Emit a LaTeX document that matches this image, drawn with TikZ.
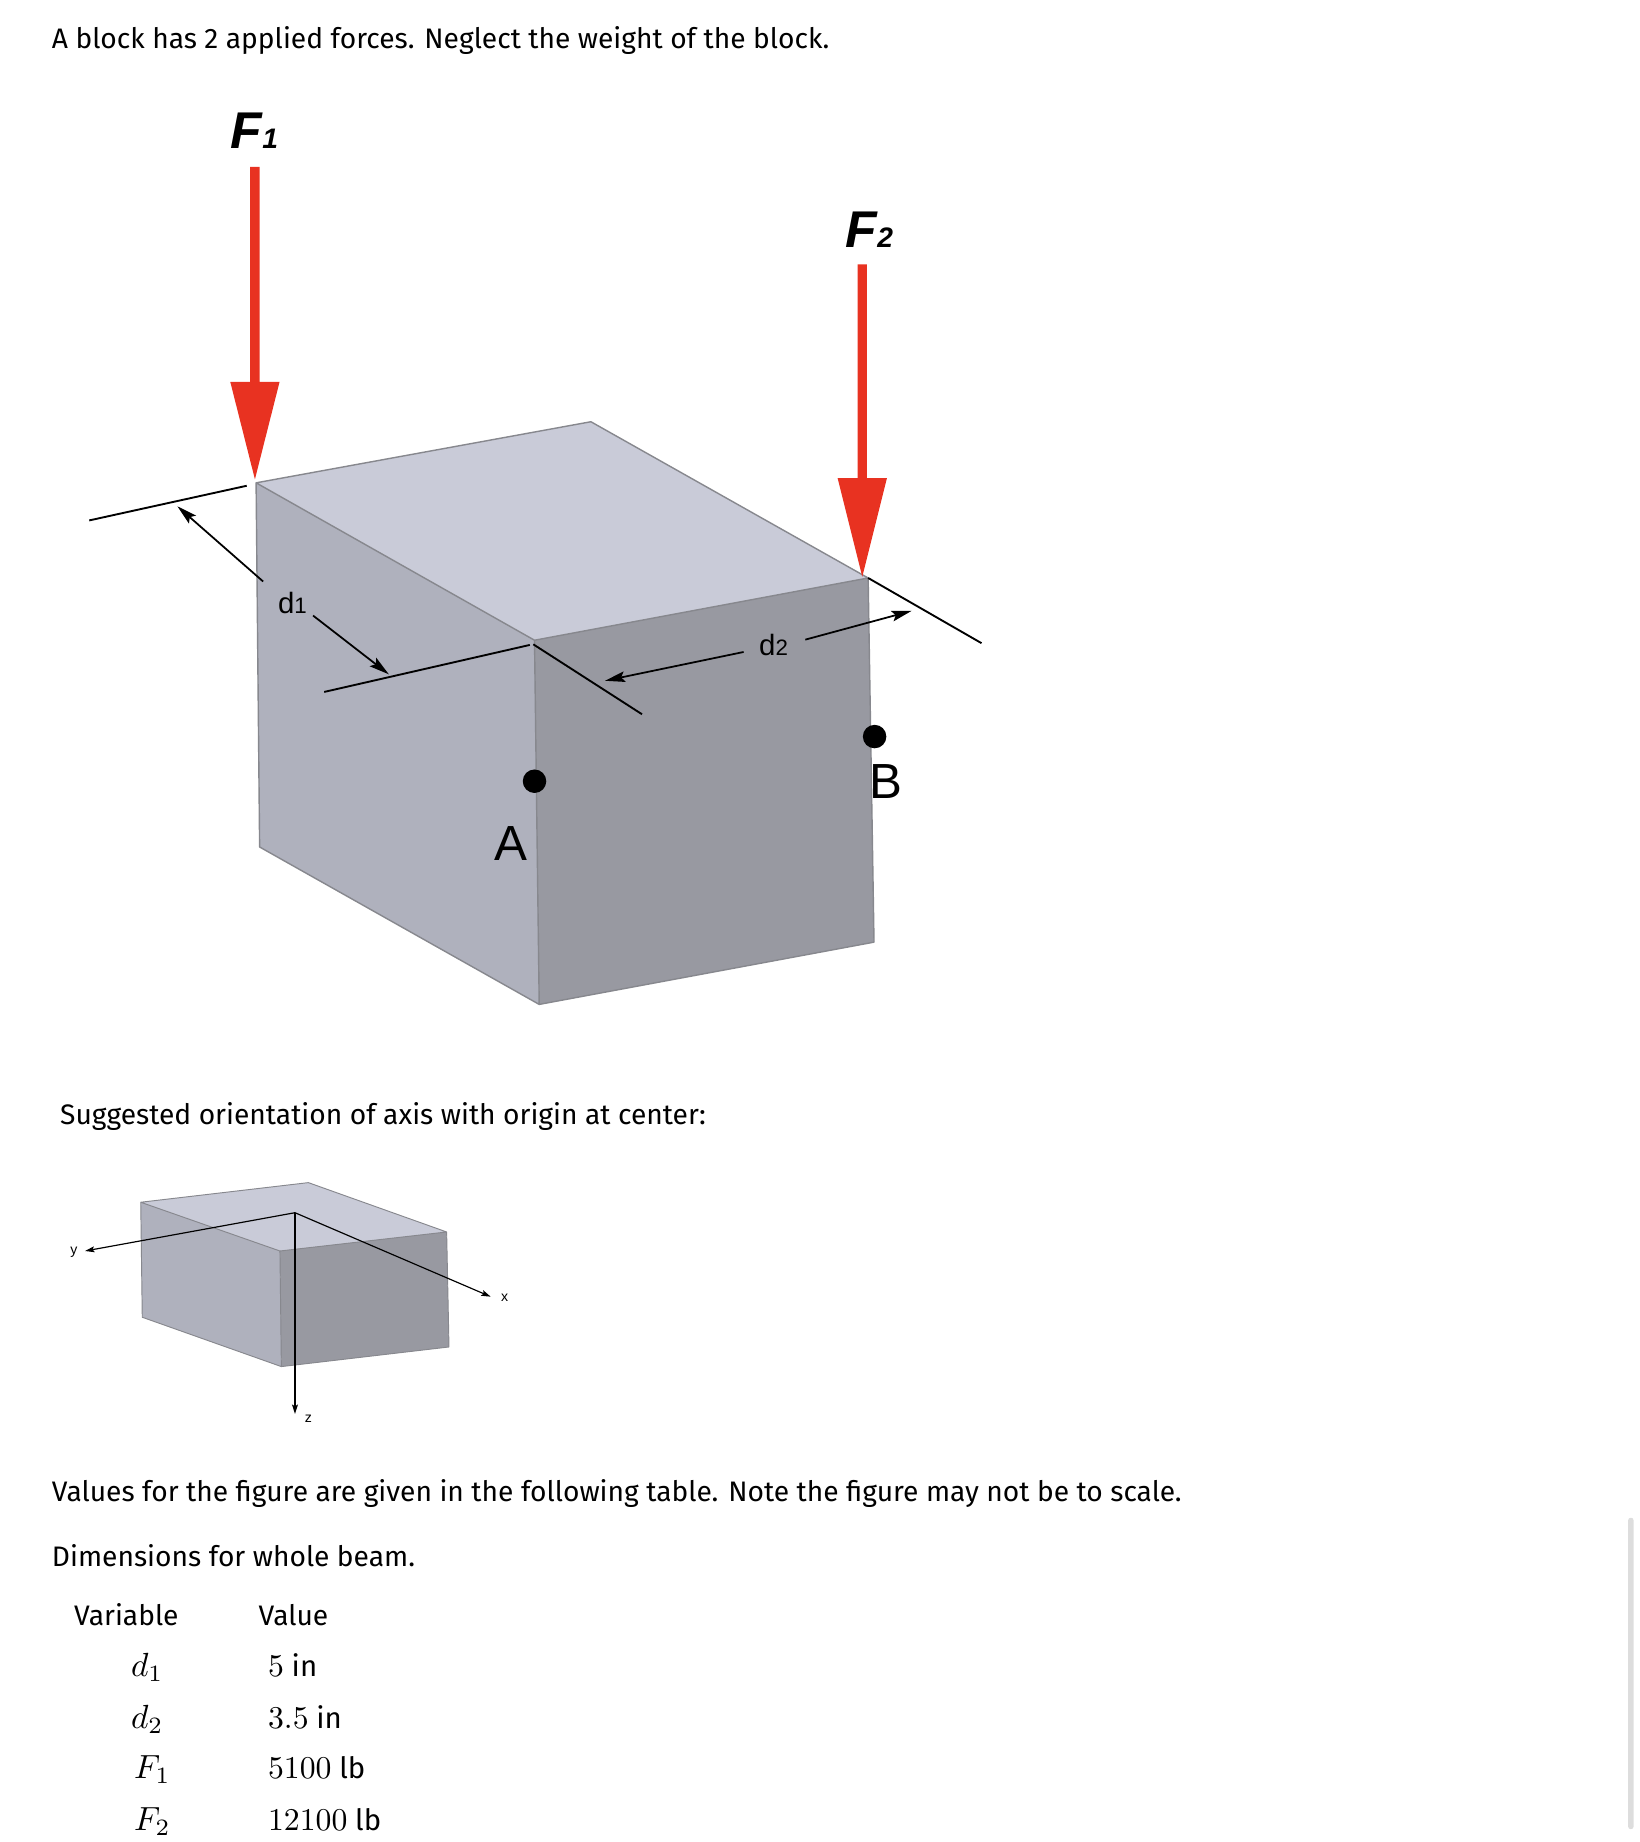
\documentclass[tikz,border=0pt]{standalone}
\usepackage{fontspec}
\setmainfont{Fira Sans}
\newfontfamily\helv{Liberation Sans}
\usetikzlibrary{arrows.meta}
\definecolor{topf}{RGB}{201,203,216}
\definecolor{leftf}{RGB}{175,177,189}
\definecolor{rightf}{RGB}{152,153,161}
\definecolor{edgec}{RGB}{135,136,142}
\definecolor{forcered}{RGB}{232,50,33}
\definecolor{barc}{RGB}{221,221,221}
\tikzset{
  x=1pt,y=-1pt,
  bodytext/.style={anchor=base west,inner sep=0pt,font=\fontsize{24}{28}\selectfont},
  tabmath/.style={anchor=base west,inner sep=0pt,scale=2.85},
  tabval/.style={anchor=base west,inner sep=0pt},
  face/.style={draw=edgec,line width=1.2pt,line join=round},
  dimline/.style={black,line width=1.6pt},
  dimarrow/.style={black,line width=1.5pt,-{Stealth[length=17pt,width=9pt,inset=3pt]}},
  axisarrow/.style={black,line width=1pt,-{Stealth[length=8pt,width=5pt,inset=1.5pt]}},
  forceshaft/.style={fill=forcered},
  bigletter/.style={inner sep=0pt,font=\helv\fontsize{42}{46}\selectfont},
  dimlabel/.style={inner sep=0pt,font=\helv\fontsize{25}{28}\selectfont},
  forcelabel/.style={inner sep=0pt,font=\helv\bfseries\itshape\fontsize{44}{48}\selectfont},
  axislabel/.style={inner sep=0pt,font=\helv\fontsize{12}{14}\selectfont},
}
\newcommand{\tabunit}[1]{{\fontsize{25}{30}\selectfont #1}}
\begin{document}
\begin{tikzpicture}
\useasboundingbox (0,0) rectangle (1396,1568);
% text
\node[bodytext] (title) at (44,41) {A block has 2 applied forces. Neglect the weight of the block.};
\node[bodytext] (suggest) at (51,957.5) {Suggested orientation of axis with origin at center:};
\node[bodytext] (values) at (44,1278) {Values for the figure are given in the following table. Note the figure may not be to scale.};
\node[bodytext] (dims) at (44,1333.5) {Dimensions for whole beam.};
\node[bodytext] (hvar) at (63,1384) {Variable};
\node[bodytext] (hval) at (220,1384) {Value};
\node[tabmath] (vd1) at (111,1427) {$d_1$};
\node[tabmath] (vd2) at (111,1471) {$d_2$};
\node[tabmath] (vf1) at (113.5,1514) {$F_1$};
\node[tabmath] (vf2) at (113.5,1558) {$F_2$};
\node[tabval] (v1) at (228,1427) {\scalebox{2.7}{$5$}\tabunit{ in}};
\node[tabval] (v2) at (228,1471) {\scalebox{2.7}{$3.5$}\tabunit{ in}};
\node[tabval] (v3) at (228,1514) {\scalebox{2.7}{$5100$}\tabunit{ lb}};
\node[tabval] (v4) at (228,1558) {\scalebox{2.7}{$12100$}\tabunit{ lb}};
% big block
\coordinate (tl) at (218,411);
\coordinate (tb) at (503,359);
\coordinate (tr) at (739,492);
\coordinate (tf) at (455,545);
\coordinate (bl) at (221,721);
\coordinate (bf) at (459,855);
\coordinate (br) at (744,802);
\fill[topf] (tl)--(tb)--(tr)--(tf)--cycle;
\fill[leftf] (tl)--(tf)--(bf)--(bl)--cycle;
\fill[rightf] (tf)--(tr)--(br)--(bf)--cycle;
\draw[face] (tl)--(tb)--(tr)--(br)--(bf)--(bl)--cycle (tl)--(tf)--(tr) (tf)--(bf);
% dimension lines
\coordinate (l1a) at (76,443); \coordinate (l1b) at (210,413.5);
\coordinate (l2a) at (276,589); \coordinate (l2b) at (451,549);
\coordinate (l3a) at (454,548.5); \coordinate (l3b) at (546.5,608);
\coordinate (l4a) at (739,492); \coordinate (l4b) at (835.5,547.5);
\draw[dimline] (l1a)--(l1b);
\draw[dimline] (l2a)--(l2b);
\draw[dimline] (l3a)--(l3b);
\draw[dimline] (l4a)--(l4b);
\coordinate (a1s) at (224,495); \coordinate (a1e) at (151,431);
\coordinate (a2s) at (266.5,524); \coordinate (a2e) at (331,574);
\coordinate (a3s) at (633,555); \coordinate (a3e) at (515,579.5);
\coordinate (a4s) at (685.5,544.5); \coordinate (a4e) at (776,520);
\draw[dimarrow] (a1s)--(a1e);
\draw[dimarrow] (a2s)--(a2e);
\draw[dimarrow] (a3s)--(a3e);
\draw[dimarrow] (a4s)--(a4e);
\node[dimlabel] (d1) at (249,513) {d{\fontsize{19}{22}\selectfont 1}};
\node[dimlabel] (d2) at (658.5,549) {d{\fontsize{19}{22}\selectfont 2}};
% forces
\fill[forceshaft] (213,142)--(221,142)--(221,325)--(238,325)--(217,408)--(196,325)--(213,325)--cycle;
\fill[forceshaft] (730,225)--(738,225)--(738,407)--(755,407)--(734,491)--(713,407)--(730,407)--cycle;
\node[forcelabel] (f1) at (216.5,111) {F{\fontsize{24}{28}\selectfont 1}};
\node[forcelabel] (f2) at (740,195.5) {F{\fontsize{24}{28}\selectfont 2}};
% points
\fill[black] (455,665) circle (10);
\fill[black] (744.5,627) circle (10);
\node[bigletter] (A) at (435,718) {A};
\node[bigletter] (B) at (754,665) {B};
% small block
\coordinate (stl) at (119.8,1023.4);
\coordinate (stb) at (262.5,1006.7);
\coordinate (str) at (380.2,1048.7);
\coordinate (stf) at (238.3,1064.9);
\coordinate (sbl) at (121.1,1121.3);
\coordinate (sbf) at (239.5,1163.3);
\coordinate (sbr) at (382.2,1146.6);
\fill[topf] (stl)--(stb)--(str)--(stf)--cycle;
\fill[leftf] (stl)--(stf)--(sbf)--(sbl)--cycle;
\fill[rightf] (stf)--(str)--(sbr)--(sbf)--cycle;
\draw[face,line width=.8pt] (stl)--(stb)--(str)--(sbr)--(sbf)--(sbl)--cycle (stl)--(stf)--(str) (stf)--(sbf);
\coordinate (org) at (251.1,1032.3);
\coordinate (ytip) at (72.4,1064.9);
\coordinate (xtip) at (417.7,1103.8);
\coordinate (ztip) at (251.1,1203.6);
\draw[axisarrow] (org)--(ytip);
\draw[axisarrow] (org)--(xtip);
\draw[axisarrow] (org)--(ztip);
\node[axislabel] (ly) at (63,1066) {y};
\node[axislabel] (lx) at (429.6,1105) {x};
\node[axislabel] (lz) at (262.5,1208) {z};
% scrollbar
\fill[barc,rounded corners=2pt] (1386,1292) rectangle (1390.5,1557);
\end{tikzpicture}
\end{document}
